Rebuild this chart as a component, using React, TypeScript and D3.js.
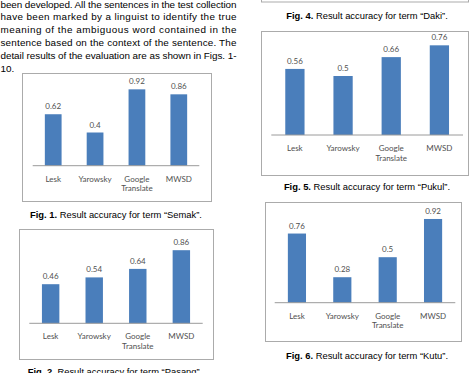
import React from "react";
import * as d3 from "d3";

// methods compared in every figure
const categories = ["Lesk", "Yarowsky", "Google Translate", "MWSD"];
// accuracy per term
const semakValues = [0.62, 0.4, 0.92, 0.86];
const pasangValues = [0.46, 0.54, 0.64, 0.86];
const pukulValues = [0.56, 0.5, 0.66, 0.76];
const kutuValues = [0.76, 0.28, 0.5, 0.92];

const paragraphLines = [
  "been developed. All the sentences in the test collection",
  "have been marked by a linguist to identify the true",
  "meaning of the ambiguous word contained in the",
  "sentence based on the context of the sentence. The",
  "detail results of the evaluation are as shown in Figs. 1-",
  "10.",
];

const panels = [
  { values: semakValues, fig: "Fig. 1.", term: "Semak", box: [22.5, 73.5, 211.5, 201.5], axis: [32.7, 199.3], base: 165.7, unit: 83, capX: 116, capY: 217.5 },
  { values: pasangValues, fig: "Fig. 2.", term: "Pasang", box: [19.5, 229.5, 213.5, 359.5], axis: [29.3, 202.7], base: 323.3, unit: 85, capX: 115, capY: 374.5 },
  { values: pukulValues, fig: "Fig. 5.", term: "Pukul", box: [261.5, 31.5, 468.5, 175.5], axis: [271.3, 463], base: 135, unit: 118, capX: 367, capY: 190 },
  { values: kutuValues, fig: "Fig.  6.", term: "Kutu", box: [265.5, 202.5, 461.5, 341.5], axis: [274.7, 455.3], base: 302.7, unit: 91, capX: 367, capY: 358.5 },
];

const barColor = "#4a7ebb";
const labelFont = "Lato, 'Open Sans', sans-serif";
const textFont = "'Liberation Sans', Arial, sans-serif";

function Panel({ p }: { p: any }) {
  const x = d3.scaleBand<string>().domain(categories).range(p.axis).paddingInner(0.6).paddingOuter(0.29);
  const y = d3.scaleLinear().domain([0, 1]).range([p.base, p.base - p.unit]);
  const fmt = d3.format("");
  const [x0, y0, x1, y1] = p.box;
  return (
    <g>
      <rect x={x0} y={y0} width={x1 - x0} height={y1 - y0} fill="#fff" stroke="#ababab" strokeWidth={1} />
      {p.values.map((v: number, i: number) => (
        <rect key={i} x={x(categories[i])} y={y(v)} width={x.bandwidth()} height={y(0) - y(v)} fill={barColor} />
      ))}
      <line x1={p.axis[0]} x2={p.axis[1]} y1={y(0)} y2={y(0)} stroke="#9a9a9a" strokeWidth={1} />
      {p.values.map((v: number, i: number) => (
        <text key={"v" + i} x={x(categories[i])! + x.bandwidth() / 2} y={y(v) - 5} textAnchor="middle"
          fontFamily={labelFont} fontSize={8} fill="#505050">{fmt(v)}</text>
      ))}
      {categories.map((c, i) => (
        <text key={"c" + i} x={x(c)! + x.bandwidth() / 2} y={y(0) + 16} textAnchor="middle"
          fontFamily={labelFont} fontSize={8} fill="#505050">
          {c.split(" ").map((w, j) => (
            <tspan key={j} x={x(c)! + x.bandwidth() / 2} dy={j === 0 ? 0 : 9.5}>{w}</tspan>
          ))}
        </text>
      ))}
      <text x={p.capX} y={p.capY} textAnchor="middle" fontFamily={textFont} fontSize={9.4} fill="#000">
        <tspan fontWeight="bold">{p.fig}</tspan>
        <tspan>{` Result accuracy for term \u201c${p.term}\u201d.`}</tspan>
      </text>
    </g>
  );
}

export default function App() {
  return (
    <svg width={474} height={373} style={{ position: "absolute", left: 0, top: 0, background: "#fff" }}>
      <rect width={474} height={373} fill="#fff" />
      {paragraphLines.map((line, i) => (
        <text key={i} x={0.5} y={7.5 + 12.8 * i} fontFamily={textFont} fontSize={9.9} fill="#000"
          {...(i < paragraphLines.length - 1 ? { textLength: 236, lengthAdjust: "spacing" } : {})}>
          {line}
        </text>
      ))}
      {/* bottom edge of the Fig. 4 chart box above */}
      <rect x={261.5} y={-20} width={207} height={22} fill="#fff" stroke="#ababab" />
      <text x={367} y={18.5} textAnchor="middle" fontFamily={textFont} fontSize={9.4} fill="#000">
        <tspan fontWeight="bold">Fig.  4.</tspan>
        <tspan>{" Result accuracy for term \u201cDaki\u201d."}</tspan>
      </text>
      {panels.map((p, i) => <Panel key={i} p={p} />)}
    </svg>
  );
}
